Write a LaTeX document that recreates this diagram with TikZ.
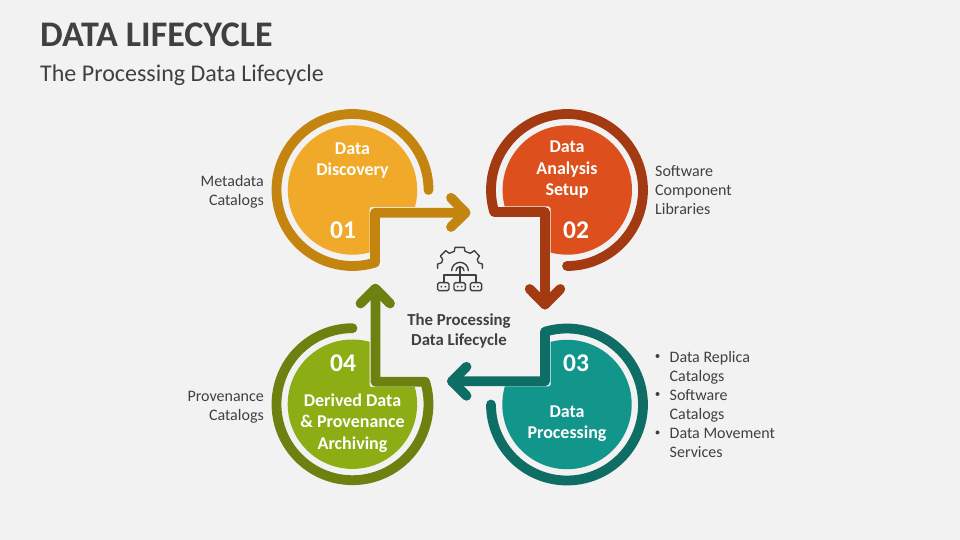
\documentclass[tikz,border=0pt]{standalone}
\usepackage{fontspec}
\setmainfont{Carlito}
\definecolor{bgc}{HTML}{F2F2F2}
\definecolor{ink}{HTML}{404040}
\definecolor{ringA}{HTML}{C48410}\definecolor{fillA}{HTML}{F0A928}
\definecolor{ringB}{HTML}{A33A12}\definecolor{fillB}{HTML}{DD4F1C}
\definecolor{ringC}{HTML}{0E6E66}\definecolor{fillC}{HTML}{12958A}
\definecolor{ringD}{HTML}{6C8110}\definecolor{fillD}{HTML}{8CAE14}
\tikzset{
  ringline/.style={line width=9.8pt,line cap=round,line join=round},
  cardtext/.style={text=white,font=\fontsize{18}{21.5}\selectfont\bfseries,align=center,inner sep=0pt},
  numtext/.style={text=white,font=\fontsize{25.5}{28}\selectfont\bfseries,inner sep=0pt},
  sidetext/.style={text=ink,font=\fontsize{16}{19}\selectfont,inner sep=0pt},
  dotmark/.style={circle,fill=ink,inner sep=0pt,minimum size=4pt},
  icon/.style={draw=ink,line width=1.35pt,line join=round,line cap=round},
}
\begin{document}
\begin{tikzpicture}[x=1pt,y=1pt]
\useasboundingbox (0,0) rectangle (960,540);
\fill[bgc] (0,0) rectangle (960,540);
% titles
\node[anchor=west,inner sep=0pt,text=ink,font=\fontsize{36}{40}\selectfont\bfseries] (title) at (40,505) {DATA LIFECYCLE};
\node[anchor=west,inner sep=0pt,text=ink,font=\fontsize{24}{28}\selectfont] (subtitle) at (40,465) {The Processing Data Lifecycle};
% card 1
\begin{scope}
\clip[rounded corners=2pt] (260,440) -- (440,440) -- (440,333) -- (369.5,333) -- (369.5,260) -- (260,260) -- cycle;
\fill[fillA] (352.5,350) circle[radius=64.7pt];
\end{scope}
\draw[ringline,ringA] (428.5,350) arc[start angle=0,end angle=287.2,radius=76pt] -- (375,327.3) -- (465.5,327.3);
\draw[ringline,ringA] (451,342.2) -- (465.5,327.3) -- (451,313);
% card 2
\begin{scope}
\clip[rounded corners=2pt] (480,440) -- (660,440) -- (660,260) -- (550.5,260) -- (550.5,333.5) -- (480,333.5) -- cycle;
\fill[fillB] (567.3,350) circle[radius=64.7pt];
\end{scope}
\draw[ringline,ringB] (567,274) arc[start angle=-90,end angle=196.8,radius=76pt] -- (545,328) -- (545,235.5);
\draw[ringline,ringB] (529.7,251) -- (545,235.5) -- (560.3,251);
% card 3
\begin{scope}
\clip[rounded corners=2pt] (480,153.5) -- (550.5,153.5) -- (550.5,220) -- (660,220) -- (660,50) -- (480,50) -- cycle;
\fill[fillC] (567,135.5) circle[radius=64.7pt];
\end{scope}
\draw[ringline,ringC] (491,135.5) arc[start angle=180,end angle=466.8,radius=76pt] -- (545,158.7) -- (452,158.7);
\draw[ringline,ringC] (466.5,173.2) -- (452,158.7) -- (466.5,144.2);
% card 4
\begin{scope}
\clip[rounded corners=2pt] (260,220) -- (369.5,220) -- (369.5,153) -- (440,153) -- (440,50) -- (260,50) -- cycle;
\fill[fillD] (352.4,135.8) circle[radius=64.7pt];
\end{scope}
\draw[ringline,ringD] (352.5,211.8) arc[start angle=90,end angle=377.2,radius=76pt] -- (375.4,158.3) -- (375.4,251.3);
\draw[ringline,ringD] (360.5,236.5) -- (375.4,251.3) -- (390,236.5);
% card texts
\node[cardtext] (t1) at (352.5,379.5) {Data\\Discovery};
\node[numtext] (n1) at (343,309.5) {01};
\node[cardtext] (t2) at (567,370) {Data\\Analysis\\Setup};
\node[numtext] (n2) at (576,309.5) {02};
\node[numtext] (n3) at (576,176.5) {03};
\node[cardtext] (t3) at (567,116.5) {Data\\Processing};
\node[numtext] (n4) at (343,176.5) {04};
\node[cardtext] (t4) at (352.5,117) {Derived Data\\\& Provenance\\Archiving};
% side labels
\node[sidetext,align=right,anchor=east] (s1) at (264,348.5) {Metadata\\Catalogs};
\node[sidetext,align=left,anchor=west] (s2) at (655,350) {Software\\Component\\Libraries};
\node[sidetext,align=right,anchor=east] (s4) at (264,132.5) {Provenance\\Catalogs};
\node[sidetext,align=left,anchor=west] (s3) at (669.5,135.3) {Data Replica\\Catalogs\\Software\\Catalogs\\Data Movement\\Services};
\node[dotmark] (b1) at (657.5,184) {};
\node[dotmark] (b2) at (657.5,146) {};
\node[dotmark] (b3) at (657.5,107.5) {};
% centre
\node[text=ink,font=\fontsize{16.8}{20}\selectfont\bfseries,align=center,inner sep=0pt] (centre) at (459,209.5) {The Processing\\Data Lifecycle};
% icon (gear, signal, tree)
\begin{scope}[shift={(425,240)},x=0.3333pt,y=0.3333pt]
\draw[icon] (38,95) -- (38,108) -- (50,112) -- (53,122) -- (46,132) -- (62,148) -- (73,140) -- (88,146) -- (90,158) -- (118,158) -- (120,146) -- (136,140) -- (148,148) -- (163,132) -- (157,122) -- (160,112) -- (172,108) -- (172,95);
\draw[icon] (80,88) arc[start angle=180,end angle=0,radius=25];
\draw[icon] (93,88) arc[start angle=180,end angle=0,radius=12];
\draw[icon] (105,100) -- (105,75);
\draw[icon] (57,52) -- (57,75) -- (153,75) -- (153,52) (105,75) -- (105,52);
\foreach \bx in {38,87,136} {
  \draw[icon,rounded corners=1.5pt] (\bx,28) rectangle ++(34,24);
  \fill[ink] (\bx+11,40) circle[radius=3];
  \fill[ink] (\bx+23,40) circle[radius=3];
}
\end{scope}
\end{tikzpicture}
\end{document}
